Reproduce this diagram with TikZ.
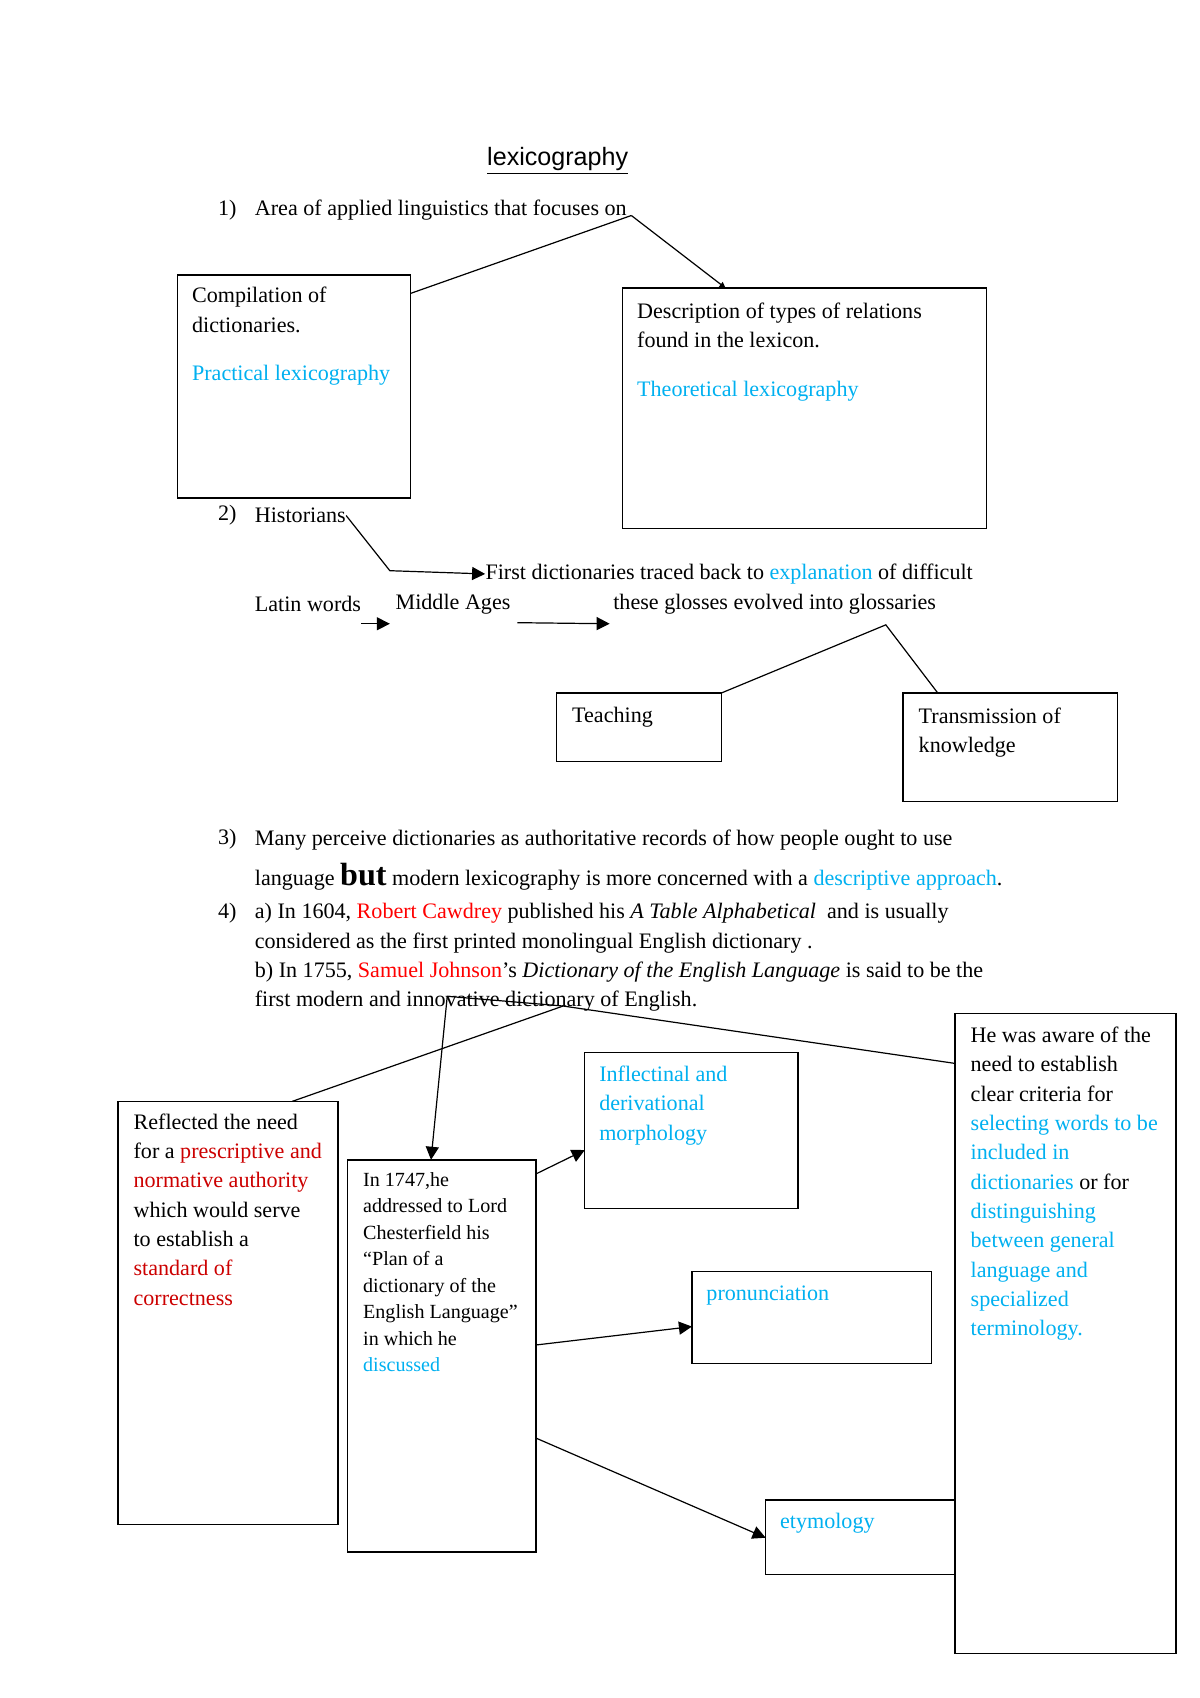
\documentclass[tikz,border=0pt]{standalone}
\usepackage{fontspec}
\setmainfont{Liberation Serif}
\newfontfamily\headfont{Liberation Sans}
\usepackage{tikz}
\usetikzlibrary{arrows.meta}
\usetikzlibrary{calc}

\definecolor{lexblue}{HTML}{00B0F0}
\definecolor{lexred}{HTML}{FF0000}
\definecolor{normred}{HTML}{CC0000}
\newcommand{\pxu}{0.018953cm}

\begin{document}
\begin{tikzpicture}[x=\pxu, y=-\pxu]
            \tikzset{line/.style={line width=0.6pt}};
            \tikzset{arrow/.style={line, -{Triangle[length=6.5pt, width=6.5pt]}}};
            \tikzset{box/.style={draw, line width=0.7pt, anchor=north west, inner sep=0pt, outer sep=0pt}};
            \tikzset{txt/.style={anchor=north west, inner sep=0pt, align=left, font=\fontsize{11}{14.6}\selectfont}};
            \tikzset{lbl/.style={anchor=west, inner sep=0pt, font=\fontsize{11}{14.6}\selectfont}};

            \useasboundingbox (0,0) rectangle (1108,1568);

            \node (title) at (515,149) {\headfont\fontsize{12.5}{15}\selectfont\underline{lexicography}};

            \node[lbl] (n1) at (201,194) {1)};
            \node[lbl] (area) at (235,194) {Area of applied linguistics that focuses on};
            \coordinate (focus) at (583,199);

            \node[box, minimum width=215*\pxu, minimum height=206*\pxu] (comp) at (164,254) {};
            \node[txt] (compT) at (177,265) {Compilation of\\dictionaries.\\[9.6pt]\textcolor{lexblue}{Practical lexicography}};
            \node[box, minimum width=336*\pxu, minimum height=222*\pxu] (desc) at (575,266) {};
            \node[txt] (descT) at (588,279) {Description of types of relations\\found in the lexicon.\\[9.6pt]\textcolor{lexblue}{Theoretical lexicography}};
            \draw[line] ($(comp.north east)+(0,17)$) -- (focus);
            \draw[line, -{Triangle[length=3pt, width=3pt]}] (focus) -- ($(desc.north west)+(95,0)$);

            \node[lbl] (n2) at (201,476) {2)};
            \node[lbl] (hist) at (235,476) {Historians};
            \coordinate (bend) at (360,527);
            \node[lbl] (first) at (448,530) {First dictionaries traced back to \textcolor{lexblue}{explanation} of difficult};
            \draw[arrow] (hist.east) -- (bend) -- (first.west);

            \node[lbl] (latin) at (235,558) {Latin words};
            \node[lbl] (middle) at (365,558) {Middle Ages};
            \node[lbl] (gloss) at (566,558) {these glosses evolved into glossaries};
            \draw[arrow] ($(latin.east)+(0,18)$) -- ($(middle.west)+(-5,18)$);
            \draw[arrow] ($(middle.east)+(6,17)$) -- ($(gloss.west)+(-3,18)$);

            \coordinate (split) at (818,577);
            \node[box, minimum width=152*\pxu, minimum height=63*\pxu] (teach) at (514,640) {};
            \node[txt] (teachT) at (528,653) {Teaching};
            \node[box, minimum width=198*\pxu, minimum height=100*\pxu] (trans) at (834,640) {};
            \node[txt] (transT) at (848,653) {Transmission of\\knowledge};
            \draw[line] (teach.north east) -- (split) -- ($(trans.north west)+(32,0)$);

            \node[lbl] (n3) at (201,775) {3)};
            \node[txt] (many) at (235,766) {Many perceive dictionaries as authoritative records of how people ought to use\\[5.4pt]language {\fontsize{16}{16}\selectfont\bfseries but} modern lexicography is more concerned with a \textcolor{lexblue}{descriptive approach}.};

            \node[lbl] (n4) at (201,843) {4)};
            \node[txt] (cawd) at (235,834) {a) In 1604, \textcolor{lexred}{Robert Cawdrey} published his \textit{A Table Alphabetical}\ \ and is usually\\considered as the first printed monolingual English dictionary .\\b) In 1755, \textcolor{lexred}{Samuel Johnson}’s \textit{Dictionary of the English Language} is said to be the\\first modern and innovative dictionary of English.};
            \coordinate (inno) at (413,920);
            \coordinate (join) at (520,929);

            \node[box, minimum width=203*\pxu, minimum height=391*\pxu] (refl) at (109,1017) {};
            \node[txt] (reflT) at (123,1028) {Reflected the need\\for a \textcolor{normred}{prescriptive and}\\\textcolor{normred}{normative authority}\\which would serve\\to establish a\\\textcolor{normred}{standard of}\\\textcolor{normred}{correctness}};
            \node[box, minimum width=174*\pxu, minimum height=362*\pxu] (plan) at (321,1071) {};
            \node[txt, font=\fontsize{10}{13.2}\selectfont] (planT) at (335,1082) {In 1747,he\\addressed to Lord\\Chesterfield his\\“Plan of a\\dictionary of the\\English Language”\\in which he\\\textcolor{lexblue}{discussed}};
            \node[box, minimum width=197*\pxu, minimum height=144*\pxu] (infl) at (540,972) {};
            \node[txt, text=lexblue] (inflT) at (553,984) {Inflectinal and\\derivational\\morphology};
            \node[box, minimum width=221*\pxu, minimum height=85*\pxu] (pron) at (639,1174) {};
            \node[txt, text=lexblue] (pronT) at (652,1187) {pronunciation};
            \node[box, minimum width=175*\pxu, minimum height=69*\pxu] (etym) at (707,1385) {};
            \node[txt, text=lexblue] (etymT) at (720,1397) {etymology};
            \node[box, minimum width=204*\pxu, minimum height=591*\pxu] (aware) at (882,936) {};
            \node[txt] (awareT) at (896,948) {He was aware of the\\need to establish\\clear criteria for\\\textcolor{lexblue}{selecting words to be}\\\textcolor{lexblue}{included in}\\\textcolor{lexblue}{dictionaries} or for\\\textcolor{lexblue}{distinguishing}\\\textcolor{lexblue}{between general}\\\textcolor{lexblue}{language and}\\\textcolor{lexblue}{specialized}\\\textcolor{lexblue}{terminology.}};

            \draw[line] (inno) -- (join);
            \draw[line] ($(refl.north west)+(161,0)$) -- (join) -- ($(aware.north west)+(0,46)$);
            \draw[arrow] (inno) -- ($(plan.north west)+(77,0)$);
            \draw[arrow] ($(plan.north east)+(0,13)$) -- ($(infl.north west)+(0,90)$);
            \draw[arrow] ($(plan.north east)+(0,171)$) -- ($(pron.north west)+(0,51)$);
            \draw[arrow] ($(plan.north east)+(0,257)$) -- ($(etym.north west)+(0,35)$);
\end{tikzpicture}
\end{document}
